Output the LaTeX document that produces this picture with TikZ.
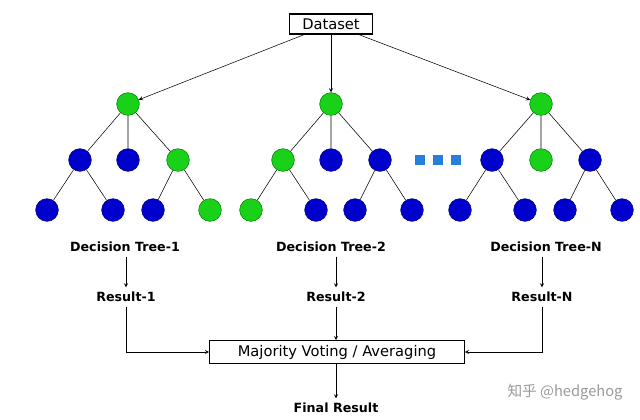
\documentclass[tikz,border=0pt]{standalone}
\usepackage{fontspec}
\setmainfont{DejaVu Sans}
\newfontfamily\cjk{Noto Sans CJK SC}
\begin{document}
\begin{tikzpicture}[x=0.75pt,y=-0.75pt,
  g/.style={circle,fill=green!80!black!90,draw=green!50!black,minimum size=17pt,inner sep=0},
  b/.style={circle,fill=blue!80!black,draw=blue!50!black,minimum size=17pt,inner sep=0},
  sq/.style={rectangle,fill=blue!50!cyan!70!gray,minimum size=7pt,inner sep=0},
  lbl/.style={font=\bfseries\fontsize{9.5}{11}\selectfont},
  box/.style={draw,thick,font=\fontsize{11}{13}\selectfont,inner sep=3pt},
  arr/.style={->,>=stealth},
  e/.style={thin}]
\useasboundingbox (0,0) rectangle (640,419);
\node[box,minimum width=62pt,minimum height=15pt] (ds) at (331,24) {Dataset};
% tree 1
\node[g] (r1) at (128,104) {};
\node[b] (a1) at (80,160) {}; \node[b] (a2) at (128,160) {}; \node[g] (a3) at (178,160) {};
\node[b] (a4) at (47,210) {}; \node[b] (a5) at (113,210) {}; \node[b] (a6) at (153,210) {}; \node[g] (a7) at (210,210) {};
% tree 2
\node[g] (r2) at (331,104) {};
\node[g] (b1) at (283,160) {}; \node[b] (b2) at (331,160) {}; \node[b] (b3) at (380,160) {};
\node[g] (b4) at (251,210) {}; \node[b] (b5) at (316,210) {}; \node[b] (b6) at (355,210) {}; \node[b] (b7) at (412,210) {};
% tree N
\node[g] (r3) at (541,104) {};
\node[b] (c1) at (492,160) {}; \node[g] (c2) at (541,160) {}; \node[b] (c3) at (590,160) {};
\node[b] (c4) at (460,210) {}; \node[b] (c5) at (525,210) {}; \node[b] (c6) at (565,210) {}; \node[b] (c7) at (622,210) {};
\node[sq] (s1) at (420,160) {}; \node[sq] (s2) at (438,160) {}; \node[sq] (s3) at (456,160) {};
\draw[e] (r1)--(a1) (r1)--(a2) (r1)--(a3) (a1)--(a4) (a1)--(a5) (a3)--(a6) (a3)--(a7);
\draw[e] (r2)--(b1) (r2)--(b2) (r2)--(b3) (b1)--(b4) (b1)--(b5) (b3)--(b6) (b3)--(b7);
\draw[e] (r3)--(c1) (r3)--(c2) (r3)--(c3) (c1)--(c4) (c1)--(c5) (c3)--(c6) (c3)--(c7);
\draw[arr] (ds)--(r1); \draw[arr] (ds)--(r2); \draw[arr] (ds)--(r3);
\node[lbl] (t1) at (125,247) {Decision Tree-1};
\node[lbl] (t2) at (331,247) {Decision Tree-2};
\node[lbl] (t3) at (546,247) {Decision Tree-N};
\node[lbl] (p1) at (126,297) {Result-1};
\node[lbl] (p2) at (336,297) {Result-2};
\node[lbl] (p3) at (542,297) {Result-N};
\draw[arr] (t1.south -| p1)--(p1); \draw[arr] (t2.south -| p2)--(p2); \draw[arr] (t3.south -| p3)--(p3);
\node[box,minimum width=191pt,minimum height=17pt] (mv) at (337,352) {Majority Voting / Averaging};
\node[lbl] (fr) at (336,408) {Final Result};
\draw[arr] (p1) |- (mv.west); \draw[arr] (p2)--(p2 |- mv.north); \draw[arr] (p3) |- (mv.east);
\draw[arr] (mv.south -| fr)--(fr);
\node[text=gray!80,font=\cjk\fontsize{11}{13}\selectfont] (wm) at (565,392) {知乎 @hedgehog};
\end{tikzpicture}
\end{document}
